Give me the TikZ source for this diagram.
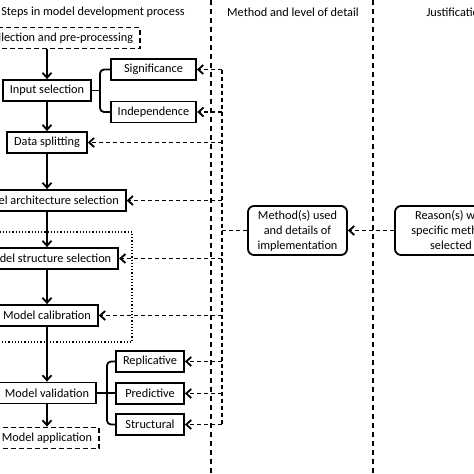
\documentclass[tikz,border=0pt]{standalone}
\usepackage{fontspec}
\setmainfont{Carlito}
\usetikzlibrary{positioning, arrows.meta}

\begin{document}
\begin{tikzpicture}[x=1pt, y=-1pt]

          % Setup the styles for the boxes and the links
          \tikzset{stepbox/.style={draw,
                                   line width=1.8pt,
                                   inner xsep=7pt,
                                   minimum height=21pt,
                                   font=\fontsize{12.3}{14}\selectfont},
                   openbox/.style={stepbox, dash pattern=on 5pt off 3pt},
                   testbox/.style={stepbox, minimum width=85pt},
                   checkbox/.style={stepbox, minimum width=68pt},
                   infobox/.style={draw,
                                   rounded corners=6pt,
                                   line width=1.8pt,
                                   minimum height=49pt,
                                   align=center,
                                   font=\fontsize{12.3}{15}\selectfont},
                   headline/.style={font=\fontsize{12.3}{14}\selectfont},
                   flow/.style={line width=1.8pt, -{Straight Barb[length=5pt,width=9pt]}},
                   link/.style={line width=1.8pt, dash pattern=on 4.5pt off 2.5pt},
                   linkarrow/.style={link, -{Straight Barb[length=5pt,width=9pt]}},
                   column/.style={line width=1.5pt, dash pattern=on 5pt off 4pt}}

          \useasboundingbox (0,0) rectangle (474,474);
          \clip (0,0) rectangle (474,474);

          % Draw the column heads and the column borders
          \node[headline] at (93,12)   (stepshead)   {Steps in model development process};
          \node[headline] at (293,12)  (methodhead)  {Method and level of detail};
          \node[headline, anchor=west] at (423,12) (justhead) {Justification};
          \draw[column] (211,0) -- (211,474);
          \draw[column] (373,0) -- (373,474);

          % Draw the steps
          \node[openbox]  at (47,38)    (data)   {Data collection and pre-processing};
          \node[stepbox]  at (47,90.5)  (input)  {Input selection};
          \node[stepbox]  at (47,142.5) (split)  {Data splitting};
          \node[stepbox]  at (47,200.5) (arch)   {Model architecture selection};
          \node[stepbox]  at (47,258.5) (struct) {Model structure selection};
          \node[stepbox]  at (47,315.5) (calib)  {Model calibration};
          \node[stepbox]  at (47,393)   (valid)  {Model validation};
          \node[openbox]  at (47,438)   (appl)   {Model application};

          \node[testbox]  at (153.5,69.5) (signif) {Significance};
          \node[testbox]  at (153.5,112)  (indep)  {Independence};
          \node[checkbox] at (150,361.5)  (repl)   {Replicative};
          \node[checkbox] at (150,393.5)  (pred)   {Predictive};
          \node[checkbox] at (150,424.5)  (structural) {Structural};

          % Draw the method and the justification
          \node[infobox, minimum width=99pt]  at (297.5,230.5) (method) {Method(s) used\\and details of\\implementation};
          \node[infobox, minimum width=112pt] at (451,230.5)   (reason) {Reason(s) why\\specific method\\selected};

          \coordinate (bus) at (222,230.5);
          \coordinate (ibr) at (100,90.5);
          \coordinate (vbr) at (107,393);

          % Connect the steps
          \draw[flow] (data)   -- (input);
          \draw[flow] (input)  -- (split);
          \draw[flow] (split)  -- (arch);
          \draw[flow] (arch)   -- (struct);
          \draw[flow] (struct) -- (calib);
          \draw[flow] (calib)  -- (valid);
          \draw[flow] (valid)  -- (appl);

          \draw[line width=1.8pt] (input) -- (ibr);
          \draw[line width=1.8pt, rounded corners=4pt] (signif) -| (ibr) |- (indep);
          \draw[line width=1.8pt] (valid) -- (vbr);
          \draw[line width=1.8pt, rounded corners=4pt] (repl) -| (vbr) |- (structural);
          \draw[line width=1.8pt] (vbr) -- (pred);

          % Loop round structure selection and calibration
          \draw[line width=1.2pt, dotted] (-10,232) -- (132,232) -- (132,342) -- (-10,342);

          % Connect the method to the steps
          \draw[link] (bus |- signif) -- (bus |- structural);
          \draw[link] (method) -- (bus);
          \foreach \target in {signif, indep, split, arch, struct, calib, repl, pred, structural}
             \draw[linkarrow] (bus |- \target) -- (\target);
          \draw[linkarrow] (reason) -- (method);

\end{tikzpicture}
\end{document}
